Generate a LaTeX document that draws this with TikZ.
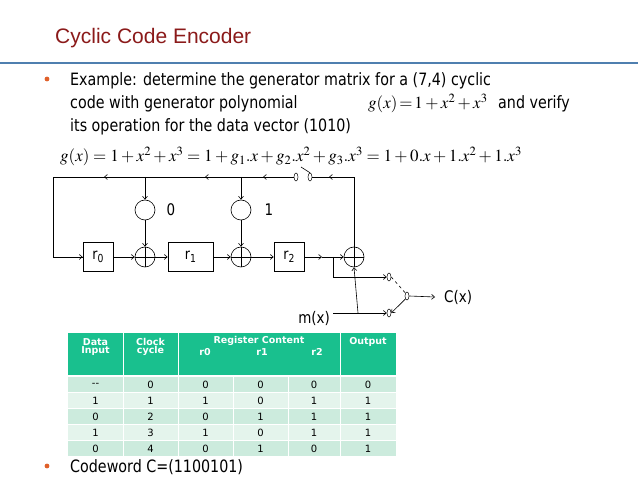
\documentclass[tikz,border=0pt]{standalone}
\usepackage{mathptmx}
\usepackage{fontspec}
\setmainfont{DejaVu Sans}
\newfontfamily\vfont[FakeStretch=0.84]{DejaVu Sans}
\newfontfamily\arialf{Liberation Sans}
\usetikzlibrary{arrows.meta,shapes.geometric}
\definecolor{titlered}{HTML}{8B1A1A}
\definecolor{rulec}{HTML}{4F7FAF}
\definecolor{bulc}{HTML}{E0602A}
\definecolor{hdr}{HTML}{19C08E}
\definecolor{rowa}{HTML}{CCEBDD}
\definecolor{rowb}{HTML}{E4F4EC}
\newcommand{\regsub}[1]{\raisebox{-3pt}{\fontsize{11}{11}\selectfont #1}}
\begin{document}
\begin{tikzpicture}[x=1pt,y=-1pt,
  wire/.style={line width=0.6pt},
  arr/.style={wire,-{Straight Barb[length=3pt,width=5pt]}},
  reg/.style={draw,line width=0.6pt,minimum height=29pt,font=\vfont\fontsize{15}{15}\selectfont},
  addr/.style={draw,circle,line width=0.6pt,minimum size=20pt,inner sep=0pt},
  sw/.style={draw,ellipse,line width=0.5pt,minimum width=4pt,minimum height=8pt,inner sep=0pt},
  body/.style={font=\vfont\fontsize{17}{17}\selectfont,anchor=base west,inner sep=0pt},
  lbl/.style={font=\vfont\fontsize{16}{16}\selectfont,inner sep=0pt},
  hd/.style={font=\bfseries\fontsize{9.5}{9.5}\selectfont,text=white,align=center,inner sep=0pt},
  cell/.style={font=\fontsize{10}{10}\selectfont,inner sep=0pt}]
\useasboundingbox (0,0) rectangle (638,478);
\fill[white] (0,0) rectangle (638,478);
% title
\node[font=\arialf\fontsize{21}{21}\selectfont,text=titlered,anchor=base west,inner sep=0] (title) at (55,44) {Cyclic Code Encoder};
\draw[rulec,line width=1.2pt] (0,63) -- (638,63);
% bullets
\fill[bulc] (47,79) circle (2.4);
\node[body] (l1) at (70,86) {Example: determine the generator matrix for a (7,4) cyclic};
\node[body] (l2) at (70,109) {code with generator polynomial};
\node[anchor=base west,inner sep=0,font=\fontsize{17}{17}\selectfont] (g1) at (368,109) {$g(x)\,{=}\,1+x^2+x^3$};
\node[body] (l2b) at (498,109) {and verify};
\node[body] (l3) at (70,132) {its operation for the data vector (1010)};
\node[anchor=base west,inner sep=0,font=\fontsize{17}{17}\selectfont] (eq) at (60,162)
 {$g(x)=1+x^2+x^3=1+g_1.x+g_2.x^2+g_3.x^3=1+0.x+1.x^2+1.x^3$};
% circuit
\node[reg,minimum width=30pt] (r0) at (98,257) {r\regsub{0}};
\node[reg,minimum width=45pt] (r1) at (190.5,257) {r\regsub{1}};
\node[reg,minimum width=30pt] (r2) at (289,257) {r\regsub{2}};
\node[addr] (a1) at (145,257) {};
\node[addr] (a2) at (241,257) {};
\node[addr] (a3) at (354,257) {};
\foreach \a in {a1,a2,a3}{\draw[wire] (\a.north)--(\a.south) (\a.west)--(\a.east);}
\node[addr] (m1) at (145,210) {};
\node[addr] (m2) at (241,210) {};
\node[lbl] (t0) at (171,210) {0};
\node[lbl] (t1) at (269,210) {1};
\node[sw] (s1) at (296,177) {};
\node[sw] (s2) at (310,177) {};
\draw[wire] (s2.north) -- (301,167);
\draw[wire] (a3.north) |- (s2.east);
\draw[arr] (335,177) -- (329,177);
\draw[wire] (s1.west) -- (53,177) |- (r0.west);
\draw[arr] (75,257) -- (r0.west);
\draw[arr] (280,177) -- (263,177);
\draw[arr] (215,177) -- (205,177);
\draw[arr] (115,177) -- (104,177);
\draw[arr] (145,177) -- (m1.north);
\draw[arr] (241,177) -- (m2.north);
\draw[arr] (m1.south) -- (a1.north);
\draw[arr] (m2.south) -- (a2.north);
\draw[arr] (r0.east) -- (a1.west);
\draw[arr] (a1.east) -- (r1.west);
\draw[arr] (r1.east) -- (a2.west);
\draw[arr] (a2.east) -- (r2.west);
\draw[arr] (r2.east) -- (322,257);
\draw[arr] (322,257) -- (a3.west);
% output switch
\node[sw] (c1) at (389,277) {};
\node[sw] (c2) at (389,313) {};
\node[sw] (p) at (407,296) {};
\draw[arr] (333,257) |- (c1.west);
\draw[wire,dashed] (c1.east) -- (p.north west);
\draw[arr] (p.south west) -- (c2.east);
\node[lbl,anchor=west] (cx) at (444,297) {C(x)};
\draw[arr] (p.east) -- ([xshift=-9pt]cx.west);
\node[lbl,anchor=east] (mx) at (330,318) {m(x)};
\draw[arr] ([xshift=3pt]mx.east |- c2.west) -- (c2.west);
\draw[arr] (358,313) -- (a3.south);
% table
\fill[hdr] (68,333) rectangle (396,375);
\foreach \x in {123,178,340}{\draw[white,line width=1pt] (\x,333) -- (\x,375);}
\node[hd] (h1) at (95.5,347) {Data\\[-1pt]Input};
\node[hd] (h2) at (150.5,347) {Clock\\[-1pt]cycle};
\node[hd] (h3) at (259,341) {Register Content};
\node[hd] (h4) at (205,352) {r0};
\node[hd] (h5) at (262,352) {r1};
\node[hd] (h6) at (317,352) {r2};
\node[hd] (h7) at (368,342) {Output};
\foreach \i/\a/\b/\c/\d/\e/\f in {0/{-}{-}/0/0/0/0/0,1/1/1/1/0/1/1,2/0/2/0/1/1/1,3/1/3/1/0/1/1,4/0/4/0/1/0/1}{
  \pgfmathsetmacro{\yt}{377+\i*16}
  \pgfmathsetmacro{\ym}{\yt+8}
  \ifodd\i \def\rc{rowb}\else\def\rc{rowa}\fi
  \fill[\rc] (68,\yt) rectangle (396,\yt+15);
  \foreach \x in {123,178,233,288,340}{\draw[white,line width=1pt] (\x,\yt) -- (\x,\yt+15);}
  \node[cell] at (95.5,\ym) {\a};
  \node[cell] at (150.5,\ym) {\b};
  \node[cell] at (205.5,\ym) {\c};
  \node[cell] at (260.5,\ym) {\d};
  \node[cell] at (314,\ym) {\e};
  \node[cell] at (368,\ym) {\f};
}
\fill[bulc] (47,466) circle (2.4);
\node[body] (cw) at (70,473) {Codeword C=(1100101)};
\end{tikzpicture}
\end{document}
